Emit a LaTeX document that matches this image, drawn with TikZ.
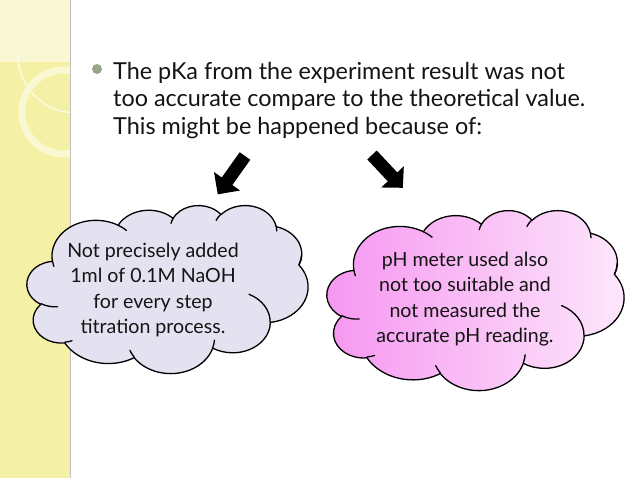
\documentclass[tikz,border=0pt]{standalone}
\usepackage{fontspec}
\setmainfont{Lato}
\definecolor{band}{RGB}{244,240,165}
\definecolor{bandlight}{RGB}{250,248,212}
\definecolor{bulletc}{RGB}{150,166,134}
\definecolor{lav}{RGB}{228,226,240}
\definecolor{pinkL}{RGB}{246,150,240}
\definecolor{pinkR}{RGB}{253,232,252}
\definecolor{txt}{RGB}{20,20,20}
\tikzset{
  bodytext/.style={font=\fontsize{23.4}{27.5}\selectfont, text=txt, align=left, anchor=north west, inner sep=0pt},
  cloudtext/.style={font=\fontsize{19.6}{25.3}\selectfont, text=txt, align=center, inner sep=0pt},
  cloudline/.style={draw=black, line width=1.3pt, line join=round},
  innerline/.style={draw=black, line width=1.3pt, line cap=round},
  blockarrow/.style={fill=black},
}
\newcommand\ooang[5]{%
  \pgfmathsetmacro\ooS{atan2(#2*sin(#4),#3*cos(#4))}%
  \pgfmathsetmacro\ooE{atan2(#2*sin(#4+#5),#3*cos(#4+#5))}%
  \pgfmathsetmacro\ooE{\ooE+360*round((\ooS+#5-\ooE)/360)}%
  \expandafter\let\csname #1S\endcsname\ooS
  \expandafter\let\csname #1E\endcsname\ooE}
\ooang{ocA}{67.53}{91.90}{-190.4875}{123.7805}
\ooang{ocB}{53.33}{72.67}{-144.1024}{89.9452}
\ooang{ocC}{43.65}{59.45}{-145.8079}{99.7230}
\ooang{ocD}{48.57}{65.95}{-130.9861}{117.2417}
\ooang{ocE}{53.33}{72.73}{-78.7089}{109.0269}
\ooang{ocF}{67.75}{92.20}{-46.2673}{130.2690}
\ooang{ocG}{57.85}{78.67}{0.6250}{114.0333}
\ooang{ocH}{67.52}{92.15}{22.4516}{115.1726}
\ooang{ocI}{77.20}{105.43}{66.2426}{75.7110}
\ooang{ocJ}{43.60}{59.18}{-274.9421}{146.7356}
\ooang{ocK}{43.45}{59.45}{-246.8285}{152.5189}
\ooang{oiA}{43.45}{59.45}{86.742}{26.430}
\ooang{oiB}{43.60}{59.18}{73.610}{11.447}
\ooang{oiC}{67.52}{92.15}{137.624}{14.081}
\ooang{oiD}{67.52}{92.15}{6.453}{15.998}
\ooang{oiE}{57.85}{78.67}{-70.292}{70.917}
\ooang{oiF}{53.33}{72.73}{30.318}{-27.752}
\ooang{oiG}{48.57}{65.95}{-13.744}{14.859}
\ooang{oiH}{48.57}{65.95}{-149.181}{18.195}
\ooang{oiI}{43.65}{59.45}{-163.494}{17.686}
\ooang{oiJ}{67.53}{91.90}{-66.707}{12.319}
\ooang{oiK}{67.53}{91.90}{157.654}{11.858}
\begin{document}
\begin{tikzpicture}[x=1pt,y=-1pt]
\useasboundingbox (0,0) rectangle (638,478);
\fill[white] (0,0) rectangle (638,478);
% left band
\fill[band] (0,0) rectangle (70,478);
\begin{scope}
\clip (0,0) rectangle (70,478);
\fill[bandlight] (0,0) rectangle (70,62);
\draw[white!65!band, line width=1.5pt] (76,55) circle (58);
\draw[white!50!band, line width=7pt] (64,112) circle (42);
\end{scope}
\draw[black!25, line width=0.6pt] (70,0) -- (70,478);
% bullet and heading
\fill[bulletc] (97,69) circle (5);
\node[bodytext] (head) at (113,62) {The pKa from the experiment result was not\\too accurate compare to the theoretical value.\\This might be happened because of:};
% block arrows
\begin{scope}[shift={(245,156)}, rotate=234.6]
\fill[blockarrow] (0,-6.5) -- (31,-6.5) -- (31,-16) -- (47,0) -- (31,16) -- (31,6.5) -- (0,6.5) -- cycle;
\end{scope}
\begin{scope}[shift={(372,155)}, rotate=-46.8]
\fill[blockarrow] (0,-6.5) -- (30,-6.5) -- (30,-15.5) -- (45,0) -- (30,15.5) -- (30,6.5) -- (0,6.5) -- cycle;
\end{scope}
% clouds
\foreach \cx/\cy/\cw/\ch/\cf in {27/205/281/168/1, 327/210/297/180/2}{
\begin{scope}[shift={(\cx,\cy)}, x=\cw pt/432, y=-\ch pt/432]
\ifnum\cf=1 \tikzset{cloudfill/.style={fill=lav}}\else\tikzset{cloudfill/.style={left color=pinkL, right color=pinkR}}\fi
\path[cloudline, cloudfill] (39.00,143.70)
  arc[start angle=\ocAS, end angle=\ocAE, x radius=67.53, y radius=91.90]
  arc[start angle=\ocBS, end angle=\ocBE, x radius=53.33, y radius=72.67]
  arc[start angle=\ocCS, end angle=\ocCE, x radius=43.65, y radius=59.45]
  arc[start angle=\ocDS, end angle=\ocDE, x radius=48.57, y radius=65.95]
  arc[start angle=\ocES, end angle=\ocEE, x radius=53.33, y radius=72.73]
  arc[start angle=\ocFS, end angle=\ocFE, x radius=67.75, y radius=92.20]
  arc[start angle=\ocGS, end angle=\ocGE, x radius=57.85, y radius=78.67]
  arc[start angle=\ocHS, end angle=\ocHE, x radius=67.52, y radius=92.15]
  arc[start angle=\ocIS, end angle=\ocIE, x radius=77.20, y radius=105.43]
  arc[start angle=\ocJS, end angle=\ocJE, x radius=43.60, y radius=59.18]
  arc[start angle=\ocKS, end angle=\ocKE, x radius=43.45, y radius=59.45]
  -- cycle;
\draw[innerline] (46.93,261.77) arc[start angle=\oiAS, end angle=\oiAE, x radius=43.45, y radius=59.45];
\draw[innerline] (69.28,348.99) arc[start angle=\oiBS, end angle=\oiBE, x radius=43.60, y radius=59.18];
\draw[innerline] (164.78,390.90) arc[start angle=\oiCS, end angle=\oiCE, x radius=67.52, y radius=92.15];
\draw[innerline] (288.27,347.51) arc[start angle=\oiDS, end angle=\oiDE, x radius=67.52, y radius=92.15];
\draw[innerline] (341.29,229.54) arc[start angle=\oiES, end angle=\oiEE, x radius=57.85, y radius=78.67];
\draw[innerline] (417.98,153.54) arc[start angle=\oiFS, end angle=\oiFE, x radius=53.33, y radius=72.73];
\draw[innerline] (383.24,54.26) arc[start angle=\oiGS, end angle=\oiGE, x radius=48.57, y radius=65.95];
\draw[innerline] (290.78,39.52) arc[start angle=\oiHS, end angle=\oiHE, x radius=48.57, y radius=65.95];
\draw[innerline] (221.41,47.20) arc[start angle=\oiIS, end angle=\oiIE, x radius=43.65, y radius=59.45];
\draw[innerline] (140.00,51.92) arc[start angle=\oiJS, end angle=\oiJE, x radius=67.53, y radius=91.90];
\draw[innerline] (41.27,157.89) arc[start angle=\oiKS, end angle=\oiKE, x radius=67.53, y radius=91.90];
\end{scope}
}
\node[cloudtext] (tl) at (153,290) {Not precisely added\\1ml of 0.1M NaOH\\for every step\\titration process.};
\node[cloudtext] (tr) at (465,299) {pH meter used also\\not too suitable and\\not measured the\\accurate pH reading.};
\end{tikzpicture}
\end{document}
